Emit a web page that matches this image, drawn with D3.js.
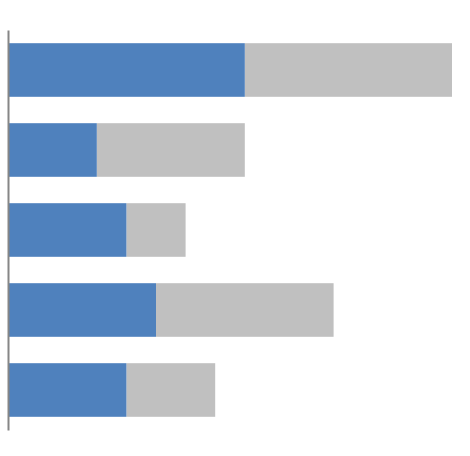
<!DOCTYPE html>
<html>
<head>
<meta charset="utf-8">
<script src="https://cdn.jsdelivr.net/npm/d3@7"></script>
<style>body{margin:0;background:#fff}</style>
</head>
<body>
<script>
var categories = ["A", "B", "C", "D", "E"];
var blueValues = [8, 3, 4, 5, 4];
var grayValues = [7, 5, 2, 6, 3];

var width = 470, height = 456;

var svg = d3.select("body").append("svg")
    .attr("width", width)
    .attr("height", height);

var x = d3.scaleLinear().domain([0, 15]).range([8, 452]);
var y = d3.scaleBand().domain(categories).range([30, 430])
    .paddingInner(0.33).paddingOuter(0.165);

var rows = categories.map(function(c, i) {
  return {cat: c, blue: blueValues[i], gray: grayValues[i]};
});

svg.selectAll("rect.gray").data(rows).enter().append("rect")
    .attr("class", "gray")
    .attr("x", function(d) { return x(d.blue); })
    .attr("y", function(d) { return y(d.cat); })
    .attr("width", function(d) { return x(d.blue + d.gray) - x(d.blue); })
    .attr("height", y.bandwidth())
    .attr("fill", "#c0c0c0");

svg.selectAll("rect.blue").data(rows).enter().append("rect")
    .attr("class", "blue")
    .attr("x", x(0))
    .attr("y", function(d) { return y(d.cat); })
    .attr("width", function(d) { return x(d.blue) - x(0); })
    .attr("height", y.bandwidth())
    .attr("fill", "#4f81bd");

svg.append("g")
    .attr("transform", "translate(" + x(0) + ",0)")
    .call(d3.axisLeft(y).tickSize(0).tickFormat(""))
  .select(".domain")
    .attr("stroke", "#868686")
    .attr("stroke-width", 2);
</script>
</body>
</html>
